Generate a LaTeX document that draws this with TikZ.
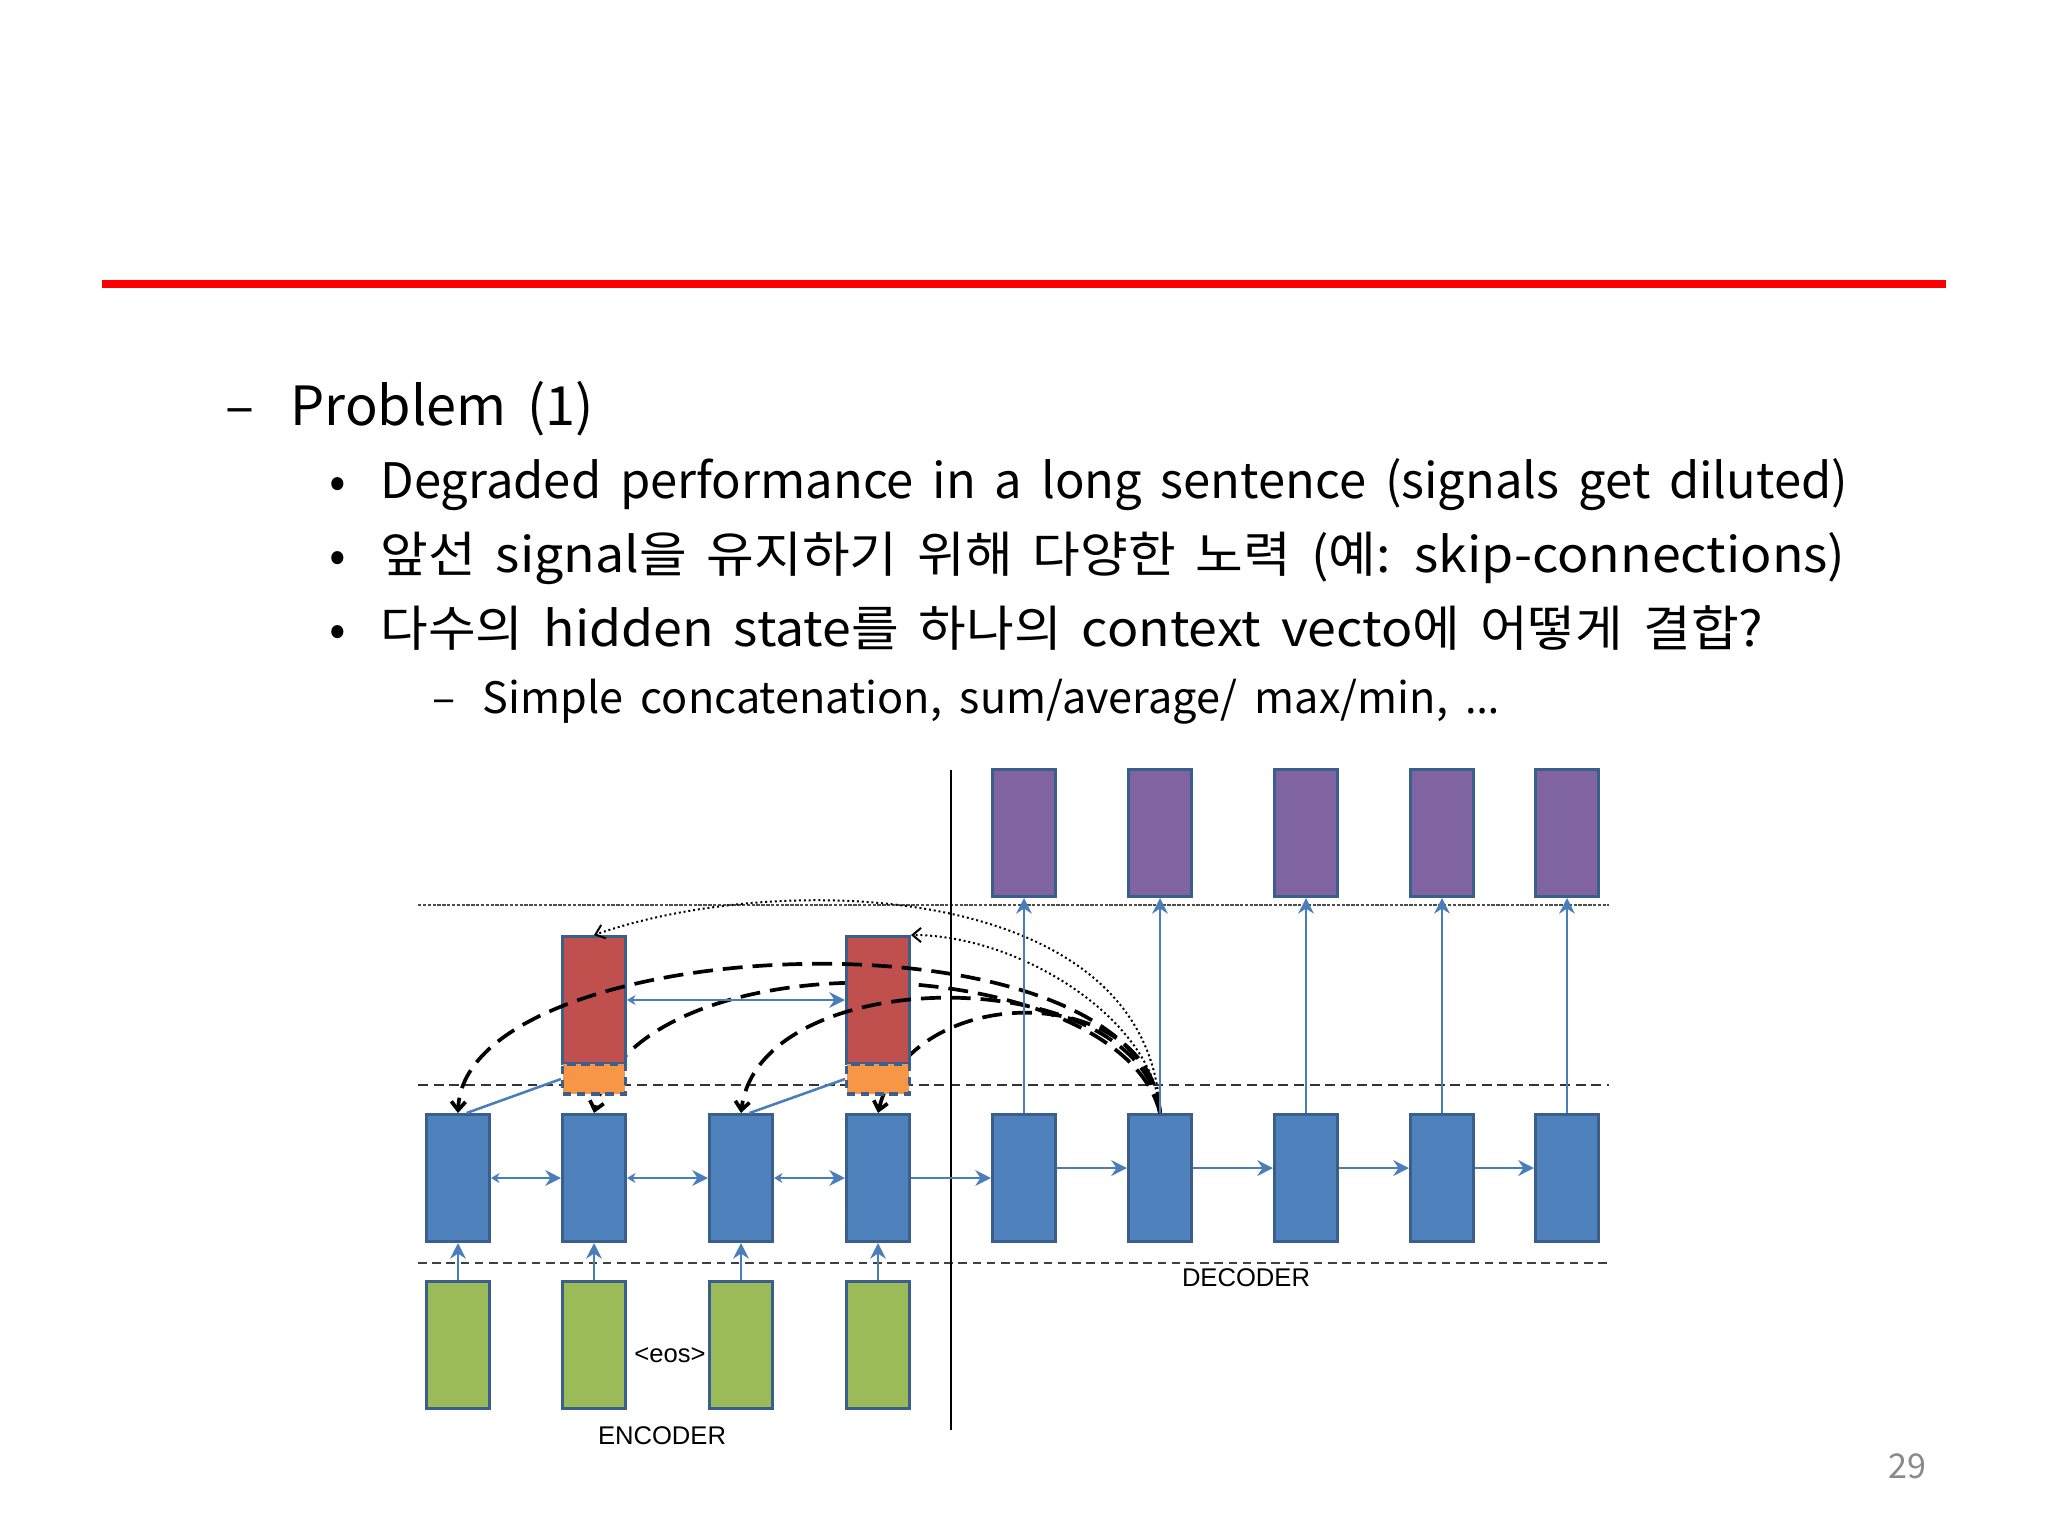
\documentclass[tikz,border=0pt]{standalone}
\usepackage{fontspec}
\setmainfont{Noto Sans CJK KR}
\newfontfamily\labelfont{Liberation Sans}
\newfontfamily\latinfont{Noto Sans}
\usetikzlibrary{arrows.meta,backgrounds}
\definecolor{hidblue}{HTML}{4F81BD}
\definecolor{boxedge}{HTML}{3A5F8C}
\definecolor{linkblue}{HTML}{4A7EBB}
\definecolor{outpurple}{HTML}{8064A2}
\definecolor{ctxred}{HTML}{C0504D}
\definecolor{mixorange}{HTML}{F79646}
\definecolor{inpgreen}{HTML}{9BBB59}
\definecolor{pagegray}{HTML}{8A8A8A}
\newcommand\headsize{\fontsize{19}{23}\selectfont\spaceskip 7.3pt\relax}
\newcommand\itemsize{\fontsize{17.2}{20}\selectfont\spaceskip 6.6pt\relax}
\newcommand\subsize{\fontsize{15.2}{18}\selectfont\spaceskip 6.2pt\relax}

\begin{document}
\begin{tikzpicture}[x=0.3516pt,y=-0.3516pt,
  cell/.style={draw=boxedge,line width=1.2pt,inner sep=0pt,minimum width=22pt,minimum height=44.5pt},
  hidbox/.style={cell,fill=hidblue},
  outbox/.style={cell,fill=outpurple},
  inbox/.style={cell,fill=inpgreen},
  ctxbox/.style={cell,fill=ctxred},
  mixbox/.style={cell,fill=mixorange,dash pattern=on 3pt off 2pt,minimum height=10.5pt},
  link/.style={linkblue,line width=1pt,-{Stealth[length=5.5pt,width=5.5pt]}},
  twoway/.style={link,{Stealth[length=3pt,width=3.5pt]}-{Stealth[length=5.5pt,width=5.5pt]}},
  skip/.style={black,line width=1.3pt,dash pattern=on 7pt off 3.5pt,-{Straight Barb[length=3pt,width=5pt]}},
  peek/.style={black,line width=0.7pt,densely dotted,-{Straight Barb[length=3pt,width=5pt]}},
  txt/.style={anchor=base west,inner sep=0pt},
  head/.style={txt,font=\headsize},
  item/.style={txt,font=\itemsize},
  subitem/.style={txt,font=\subsize}]
  \useasboundingbox (0,0) rectangle (2048,1536);

  % Title rule
  \draw[red,line width=2.6pt] (102,284) -- (1946,284);

  % Slide text
  \node[head] (dash0) at (225,425) {–};
  \node[head] (prob) at (290,425) {Problem (1)};
  \node[item] (dot1) at (329,498) {•};
  \node[item] (line1) at (380,498) {Degraded performance in a long sentence (signals get diluted)};
  \node[item] (dot2) at (329,572) {•};
  \node[item] (line2) at (380,572) {\scalebox{1.06}[1]{앞선 signal을 유지하기 위해 다양한 노력 (예: skip-connections)}};
  \node[item] (dot3) at (329,646) {•};
  \node[item] (line3) at (380,646) {\scalebox{1.06}[1]{다수의 hidden state를 하나의 context vecto에 어떻게 결합?}};
  \node[subitem] (dash1) at (432,713) {–};
  \node[subitem] (line4) at (482,713) {Simple concatenation, sum/average/ max/min, {\latinfont …}};
  \node[pagegray,font=\fontsize{12}{14}\selectfont] (page) at (1907,1466) {29};

  % Boxes
  \foreach \x [count=\i] in {458,594,741,878} {
    \node[inbox] (g\i) at (\x,1345) {};
    \node[hidbox] (e\i) at (\x,1178) {};
  }
  \foreach \x [count=\i] in {1024,1160,1306,1442,1567} {
    \node[outbox] (o\i) at (\x,833) {};
    \node[hidbox] (d\i) at (\x,1178) {};
  }
  \node[ctxbox] (r1) at (594,1000) {};
  \node[ctxbox] (r2) at (878,1000) {};
  \node[mixbox] (m1) at (594,1079) {};
  \node[mixbox] (m2) at (878,1079) {};

  % Labels
  \node[font=\labelfont\fontsize{9}{10}\selectfont,inner sep=0pt] (enc) at (662,1436) {ENCODER};
  \node[font=\labelfont\fontsize{9}{10}\selectfont,inner sep=0pt] (dec) at (1246,1278) {DECODER};
  \node[font=\labelfont\fontsize{9}{10}\selectfont,inner sep=0pt] (eos) at (670,1355) {<eos>};

  % Separators and skip links behind the boxes
  \begin{scope}[on background layer]
    \draw[black!70,line width=0.6pt,dash pattern=on 1.2pt off 0.5pt] (418,905) -- (1609,905);
    \draw[black!80,line width=0.8pt,dash pattern=on 3.5pt off 2pt] (418,1085) -- (1609,1085);
    \draw[black!75,line width=0.8pt,dash pattern=on 3pt off 2pt] (418,1263) -- (1609,1263);
    \draw[black,line width=0.9pt] (951,770) -- (951,1430);
    \draw[skip] (d2.north) .. controls (1120,950) and (640,930) .. (e2.north);
    \draw[skip] (d2.north) .. controls (1150,980) and (910,980) .. (e4.north);
  \end{scope}

  % Skip links in front
  \draw[skip] (d2.north) .. controls (1140,900) and (465,930) .. (e1.north);
  \draw[skip] (d2.north) .. controls (1140,960) and (760,960) .. (e3.north);
  \draw[peek] (d2.north) .. controls (1150,880) and (780,870) .. (r1.north);
  \draw[peek] (d2.north) .. controls (1155,1020) and (1020,935) .. (r2.north east);

  % Recurrent links
  \foreach \i [count=\j from 2] in {1,2,3} {
    \draw[twoway] (e\i.east) -- (e\j.west);
  }
  \draw[link] (e4.east) -- (d1.west);
  \foreach \i [count=\j from 2] in {1,...,4} {
    \draw[link] ([yshift=3.5pt]d\i.east) -- ([yshift=3.5pt]d\j.west);
  }
  \draw[twoway] (r1.east) -- (r2.west);

  % Inputs and outputs
  \foreach \i in {1,...,4} \draw[link] (g\i.north) -- (e\i.south);
  \foreach \i in {1,...,5} \draw[link,line width=0.6pt] (d\i.north) -- (o\i.south);
  \draw[linkblue,line width=0.9pt] (m1.west) -- ([xshift=3pt]e1.north);
  \draw[linkblue,line width=0.9pt] (m2.west) -- ([xshift=3pt]e3.north);
\end{tikzpicture}
\end{document}
